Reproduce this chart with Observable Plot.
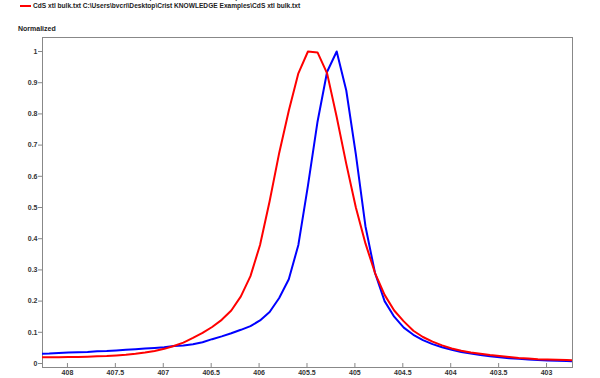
<!DOCTYPE html>
<html>
<head>
<meta charset="utf-8">
<script src="https://cdn.jsdelivr.net/npm/d3@7"></script>
<script src="https://cdn.jsdelivr.net/npm/@observablehq/plot@0.6"></script>
<style>
  html, body { margin: 0; padding: 0; background: #fff; overflow: hidden; }
  #hdr { position: relative; width: 600px; height: 36px; font-family: "Liberation Sans", Arial, sans-serif; font-weight: bold; font-size: 7px; color: #222; }
  .lg { position: absolute; left: 33px; white-space: nowrap; line-height: 8px; font-size: 6.6px; }
  .sw { position: absolute; left: 20px; width: 11px; height: 2px; }
  #ylab { position: absolute; left: 18px; top: 25px; line-height: 8px; }
  #chart svg { overflow: visible; }
</style>
</head>
<body>
<div id="hdr"></div>
<div id="chart"></div>
<script>
const bindingEnergy = [408.29, 408.19, 408.09, 407.99, 407.89, 407.79, 407.69, 407.59, 407.49, 407.39,
  407.29, 407.19, 407.09, 406.99, 406.89, 406.79, 406.69, 406.59, 406.49, 406.39,
  406.29, 406.19, 406.09, 405.99, 405.89, 405.79, 405.69, 405.59, 405.49, 405.39,
  405.29, 405.19, 405.09, 404.99, 404.89, 404.79, 404.69, 404.59, 404.49, 404.39,
  404.29, 404.19, 404.09, 403.99, 403.89, 403.79, 403.69, 403.59, 403.49, 403.39,
  403.29, 403.19, 403.09, 402.99, 402.89, 402.79, 402.69];
const redBulk = [0.020, 0.020, 0.020, 0.021, 0.021, 0.022, 0.023, 0.024, 0.026, 0.028,
  0.031, 0.035, 0.040, 0.047, 0.056, 0.067, 0.082, 0.098, 0.117, 0.140,
  0.170, 0.215, 0.280, 0.380, 0.520, 0.675, 0.810, 0.930, 1.000, 0.997,
  0.930, 0.790, 0.640, 0.500, 0.385, 0.290, 0.220, 0.170, 0.135, 0.105,
  0.085, 0.070, 0.058, 0.048, 0.041, 0.035, 0.031, 0.027, 0.024, 0.021,
  0.018, 0.016, 0.014, 0.013, 0.012, 0.011, 0.010];
const blueOther = [0.031, 0.032, 0.034, 0.035, 0.036, 0.037, 0.039, 0.040, 0.042, 0.044,
  0.046, 0.048, 0.050, 0.052, 0.056, 0.058, 0.062, 0.068, 0.078, 0.087,
  0.097, 0.108, 0.120, 0.138, 0.165, 0.210, 0.270, 0.380, 0.570, 0.775,
  0.935, 1.000, 0.875, 0.670, 0.440, 0.290, 0.200, 0.150, 0.115, 0.092,
  0.075, 0.062, 0.052, 0.044, 0.037, 0.032, 0.027, 0.023, 0.020, 0.017,
  0.015, 0.013, 0.011, 0.010, 0.009, 0.008, 0.007];
const xTicks = [408, 407.5, 407, 406.5, 406, 405.5, 405, 404.5, 404, 403.5, 403];
const yTicks = [0, 0.1, 0.2, 0.3, 0.4, 0.5, 0.6, 0.7, 0.8, 0.9, 1];
const legendEntries = [
  {label: "CdS xtl film.txt C:\\Users\\bvcri\\Desktop\\Crist KNOWLEDGE Examples\\CdS xtl film.txt", color: "#0000ff"},
  {label: "CdS xtl bulk.txt C:\\Users\\bvcri\\Desktop\\Crist KNOWLEDGE Examples\\CdS xtl bulk.txt", color: "#ff0000"}
];
const yTitle = "Normalized";
const xTitle = "Binding Energy (eV)";

const hdr = document.getElementById("hdr");
legendEntries.forEach((e, i) => {
  const top = -7 + i * 9;
  const sw = document.createElement("div");
  sw.className = "sw"; sw.style.top = (top + 3) + "px"; sw.style.background = e.color;
  const t = document.createElement("div");
  t.className = "lg"; t.style.top = top + "px"; t.textContent = e.label;
  hdr.appendChild(sw); hdr.appendChild(t);
});
const yl = document.createElement("div");
yl.id = "ylab"; yl.textContent = yTitle; hdr.appendChild(yl);

const rows = [];
bindingEnergy.forEach((b, i) => {
  rows.push({be: b, v: blueOther[i], s: "blue"});
  rows.push({be: b, v: redBulk[i], s: "red"});
});

const fmtY = d => String(+(+d).toFixed(1));
const fmtX = d => String(d);

const chart = Plot.plot({
  width: 600,
  height: 342,
  marginLeft: 42,
  marginRight: 28,
  marginTop: 1,
  marginBottom: 11,
  style: {fontFamily: "Liberation Sans, Arial, sans-serif", fontSize: "7px", fontWeight: "bold", color: "#333", background: "#fff", overflow: "visible"},
  x: {domain: [408.2604, 402.729], ticks: xTicks, tickFormat: fmtX},
  y: {domain: [-0.0128, 1.0449], ticks: yTicks, tickFormat: fmtY},
  color: {domain: ["blue", "red"], range: ["#0000ff", "#ff0000"]},
  marks: [
    Plot.frame({stroke: "#888", strokeWidth: 1}),
    Plot.axisY(yTicks, {tickSize: 4, tickPadding: 1, stroke: "#888", label: null, fill: "#333", tickFormat: fmtY}),
    Plot.axisX(xTicks, {tickSize: -4, tickPadding: 7, stroke: "#888", label: null, fill: "#333", tickFormat: fmtX}),
    Plot.line(rows, {x: "be", y: "v", z: "s", stroke: "s", strokeWidth: 2, clip: true, curve: "linear"}),
    Plot.text([xTitle], {frameAnchor: "bottom", dy: 15, fill: "#333"})
  ]
});
document.getElementById("chart").appendChild(chart);
</script>
</body>
</html>
